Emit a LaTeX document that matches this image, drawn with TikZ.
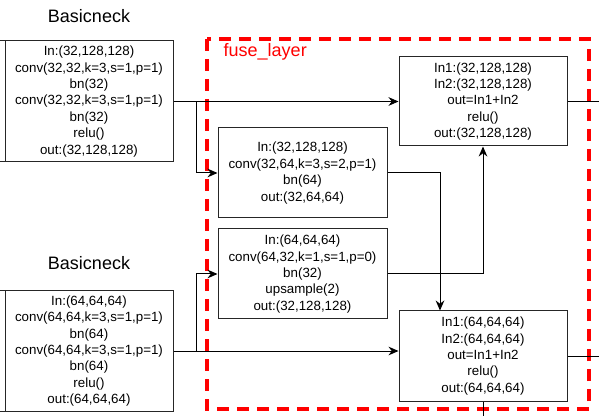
\documentclass[tikz,border=0pt]{standalone}
\usepackage{fontspec}
\setmainfont{Liberation Sans}
\usetikzlibrary{arrows.meta}
\tikzset{
  blk/.style={draw=black!85,line width=0.75pt,align=center,inner sep=0pt,
    font=\fontsize{10}{12.3}\selectfont},
  ttl/.style={font=\fontsize{13.5}{16}\selectfont},
  wire/.style={line width=0.75pt},
  fuse/.style={draw=red,line width=2.3pt,dash pattern=on 9pt off 6pt}
}
\begin{document}
\begin{tikzpicture}[x=0.75pt,y=-0.75pt,>={Stealth[length=7.5pt,width=6.5pt]}]
	\useasboundingbox (0,0) rectangle (599,416);
	% fuse_layer frame
	\draw[fuse] (207,39) rectangle (589,409);
	\node[ttl,text=red,anchor=west] (fl) at (219,52) {fuse\_layer};
	% Basicneck blocks
	\node[ttl] (t1) at (89,16) {Basicneck};
	\node[ttl] (t2) at (89,263) {Basicneck};
	\node[blk,minimum width=126pt,minimum height=90.75pt] (bn1) at (89,101.5)
	  {In:(32,128,128)\\conv(32,32,k=3,s=1,p=1)\\bn(32)\\conv(32,32,k=3,s=1,p=1)\\bn(32)\\relu()\\out:(32,128,128)};
	\node[blk,minimum width=126pt,minimum height=90pt] (bn2) at (89,351)
	  {In:(64,64,64)\\conv(64,64,k=3,s=1,p=1)\\bn(64)\\conv(64,64,k=3,s=1,p=1)\\bn(64)\\relu()\\out:(64,64,64)};
	\draw[blk] (0,41)--(5,41) (0,162)--(5,162) (0,291)--(5,291) (0,411)--(5,411);
	% fuse blocks
	\node[blk,minimum width=126pt,minimum height=66.75pt] (A) at (483,101.5)
	  {In1:(32,128,128)\\In2:(32,128,128)\\out=In1+In2\\relu()\\out:(32,128,128)};
	\node[blk,minimum width=126.75pt,minimum height=67.5pt] (B) at (302.5,173)
	  {In:(32,128,128)\\conv(32,64,k=3,s=2,p=1)\\bn(64)\\out:(32,64,64)};
	\node[blk,minimum width=126.75pt,minimum height=67.5pt] (C) at (302.5,274)
	  {In:(64,64,64)\\conv(64,32,k=1,s=1,p=0)\\bn(32)\\upsample(2)\\out:(32,128,128)};
	\node[blk,minimum width=126pt,minimum height=67.5pt] (D) at (483,356)
	  {In1:(64,64,64)\\In2:(64,64,64)\\out=In1+In2\\relu()\\out:(64,64,64)};
	% connectors
	\coordinate (s1) at (196,101.5);
	\coordinate (s2) at (196,351);
	\coordinate (oA) at (599,101.5);
	\coordinate (oD) at (599,356);
	\coordinate (oB) at (483,416);
	\draw[wire,->] (bn1.east) -- (A.west);
	\draw[wire,->] (s1) |- (B.west);
	\draw[wire,->] (B.east) -| ([xshift=-32.25pt]D.north);
	\draw[wire,->] (C.east) -| (A.south);
	\draw[wire,->] (bn2.east) -- (bn2.east -| D.west);
	\draw[wire,->] (s2) |- (C.west);
	\draw[wire] (A.east) -- (oA);
	\draw[wire] (D.east) -- (oD);
	\draw[wire] (D.south) -- (oB);
\end{tikzpicture}
\end{document}
